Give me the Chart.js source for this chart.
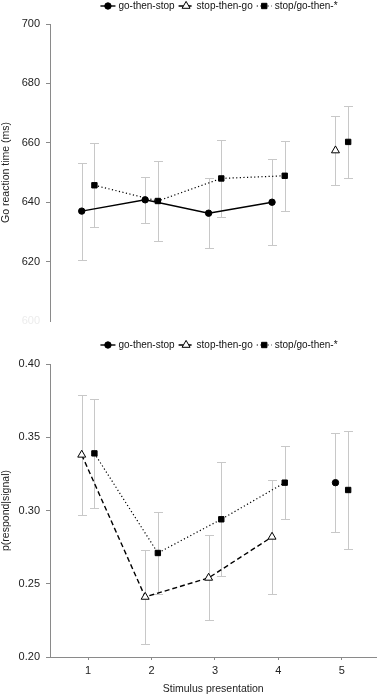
<!DOCTYPE html>
<html>
<head>
<meta charset="utf-8">
<script src="https://cdn.jsdelivr.net/npm/chart.js@4.4.0/dist/chart.umd.min.js"></script>
<style>
  html, body { margin: 0; padding: 0; background: #fff; }
  .panel { position: absolute; left: 0; width: 382px; }
  #top { top: 0; height: 340px; }
  #bottom { top: 340px; height: 356px; }
</style>
</head>
<body>
<div class="panel" id="top"><canvas id="rtChart"></canvas></div>
<div class="panel" id="bottom"><canvas id="pChart"></canvas></div>
<script>
const presentations = [1, 2, 3, 4, 5];
const seriesNames = ['go-then-stop', 'stop-then-go', 'stop/go-then-*'];

// go reaction time (ms): means and error half-widths
const rtGoThenStop = [637.0, 640.8, 636.3, 640.0, null];
const rtGoThenStopErr = [16.3, 7.8, 11.8, 14.4, null];
const rtStopThenGo = [null, null, null, null, 657.4];
const rtStopThenGoErr = [null, null, null, null, 11.5];
const rtStopGoAny = [645.7, 640.4, 648.0, 648.9, 660.3];
const rtStopGoAnyErr = [14.2, 13.4, 12.9, 11.8, 12.1];
const rtTicks = [600, 620, 640, 660, 680, 700];

// p(respond|signal): means and error half-widths
const pGoThenStop = [null, null, null, null, 0.319];
const pGoThenStopErr = [null, null, null, null, 0.034];
const pStopThenGo = [0.338, 0.241, 0.254, 0.282, null];
const pStopThenGoErr = [0.041, 0.032, 0.029, 0.039, null];
const pStopGoAny = [0.339, 0.271, 0.294, 0.319, 0.314];
const pStopGoAnyErr = [0.037, 0.028, 0.039, 0.025, 0.040];
const pTicks = [0.20, 0.25, 0.30, 0.35, 0.40];

Chart.defaults.font.family = '"Liberation Sans", Arial, sans-serif';
Chart.defaults.color = '#222';

const AXIS = '#8a8a8a';
const X_MIN = 0.4, X_MAX = 5.545;
const looks = [
  { dx: -0.1, pointStyle: 'circle', radius: 3.2, fill: '#000', dash: [], width: 1.4 },
  { dx: -0.1, pointStyle: 'triangle', radius: 4.6, fill: '#fff', dash: [5, 3], width: 1.4 },
  { dx: 0.1, pointStyle: 'rect', radius: 3.8, fill: '#000', dash: [1.2, 2.4], width: 1.2 }
];

function makeDatasets(values, errors) {
  return values.map((vals, i) => {
    const l = looks[i];
    return {
      label: seriesNames[i],
      data: presentations.map((p, j) => ({ x: p + l.dx, y: vals[j] })),
      errors: errors[i],
      borderColor: '#000',
      borderWidth: l.width,
      borderDash: l.dash,
      backgroundColor: l.fill,
      pointStyle: l.pointStyle,
      pointRadius: l.radius,
      pointBorderWidth: 1,
      pointBorderColor: '#000',
      pointBackgroundColor: l.fill,
      tension: 0,
      // condition 5 is not joined to the sequence
      segment: { borderColor: ctx => ctx.p1DataIndex === 4 ? 'rgba(0,0,0,0)' : undefined }
    };
  });
}

const errorBars = {
  id: 'errorBars',
  beforeDatasetsDraw(chart) {
    const { ctx } = chart;
    const y = chart.scales.y;
    ctx.save();
    ctx.strokeStyle = '#c8c8c8';
    ctx.lineWidth = 1;
    chart.data.datasets.forEach((ds, i) => {
      const meta = chart.getDatasetMeta(i);
      ds.errors.forEach((e, j) => {
        const v = ds.data[j].y;
        if (v == null || e == null) return;
        const px = Math.round(meta.data[j].x) + 0.5;
        const t = Math.round(y.getPixelForValue(v + e)) + 0.5;
        const b = Math.round(y.getPixelForValue(v - e)) + 0.5;
        ctx.beginPath();
        ctx.moveTo(px, t); ctx.lineTo(px, b);
        ctx.moveTo(px - 4.5, t); ctx.lineTo(px + 4.5, t);
        ctx.moveTo(px - 4.5, b); ctx.lineTo(px + 4.5, b);
        ctx.stroke();
      });
    });
    ctx.restore();
  }
};

const topLegend = {
  id: 'topLegend',
  afterDraw(chart, args, opts) {
    const ctx = chart.ctx;
    ctx.save();
    ctx.font = '10px "Liberation Sans", Arial, sans-serif';
    ctx.textBaseline = 'middle';
    const sw = 15, gapT = 3, gapI = 4;
    const items = chart.data.datasets;
    const widths = items.map(d => sw + gapT + ctx.measureText(d.label).width);
    const total = widths.reduce((a, b) => a + b, 0) + gapI * (items.length - 1);
    let x = opts.centerX - total / 2;
    const y = opts.y;
    items.forEach((d, i) => {
      ctx.strokeStyle = '#000';
      ctx.lineWidth = d.borderWidth;
      ctx.setLineDash(d.borderDash);
      ctx.beginPath(); ctx.moveTo(x, y); ctx.lineTo(x + sw, y); ctx.stroke();
      ctx.setLineDash([]);
      ctx.fillStyle = d.pointBackgroundColor;
      ctx.lineWidth = 1;
      Chart.helpers.drawPoint(ctx, { pointStyle: d.pointStyle, radius: d.pointRadius, borderWidth: 1, rotation: 0 }, x + sw / 2, y);
      ctx.fillStyle = '#111';
      ctx.fillText(d.label, x + sw + gapT, y);
      x += widths[i] + gapI;
    });
    ctx.restore();
  }
};

function yAxis(ticks, min, max, title, fmt, faintValue) {
  return {
    type: 'linear', min, max,
    afterBuildTicks: s => { s.ticks = ticks.map(v => ({ value: v })); },
    afterFit: s => { s.width = 50; },
    border: { display: true, color: AXIS, width: 1 },
    grid: { drawOnChartArea: false, tickLength: 4, color: c => c.tick && c.tick.value === faintValue ? 'rgba(0,0,0,0)' : AXIS },
    ticks: {
      padding: 6, font: { size: 11 },
      color: c => c.tick.value === faintValue ? '#ececec' : '#222',
      callback: fmt
    },
    title: { display: true, text: title, font: { size: 10.5 }, color: '#222', padding: 0 }
  };
}

new Chart(document.getElementById('rtChart'), {
  type: 'line',
  data: { datasets: makeDatasets([rtGoThenStop, rtStopThenGo, rtStopGoAny], [rtGoThenStopErr, rtStopThenGoErr, rtStopGoAnyErr]) },
  options: {
    responsive: true, maintainAspectRatio: false, animation: false,
    layout: { padding: { top: 24, bottom: 19, left: 0, right: 0 } },
    plugins: { legend: { display: false }, tooltip: { enabled: false }, topLegend: { centerX: 219, y: 6 } },
    scales: {
      x: { type: 'linear', min: X_MIN, max: X_MAX, display: false },
      y: yAxis(rtTicks, 600, 700, 'Go reaction time (ms)', v => String(v), 600)
    }
  },
  plugins: [errorBars, topLegend]
});

new Chart(document.getElementById('pChart'), {
  type: 'line',
  data: { datasets: makeDatasets([pGoThenStop, pStopThenGo, pStopGoAny], [pGoThenStopErr, pStopThenGoErr, pStopGoAnyErr]) },
  options: {
    responsive: true, maintainAspectRatio: false, animation: false,
    layout: { padding: { top: 24, bottom: 0, left: 0, right: 0 } },
    plugins: { legend: { display: false }, tooltip: { enabled: false }, topLegend: { centerX: 219, y: 5 } },
    scales: {
      x: {
        type: 'linear', min: X_MIN, max: X_MAX,
        afterBuildTicks: s => { s.ticks = presentations.map(v => ({ value: v })); },
        afterFit: s => { s.height = 39; },
        border: { display: true, color: AXIS, width: 1 },
        grid: { drawOnChartArea: false, tickLength: 3, color: AXIS },
        ticks: { padding: 4, font: { size: 11 }, color: '#222', maxRotation: 0 },
        title: { display: true, text: 'Stimulus presentation', font: { size: 10.5 }, color: '#222', padding: { top: 0, bottom: 1 } }
      },
      y: yAxis(pTicks, 0.2, 0.4, 'p(respond|signal)', v => v.toFixed(2), null)
    }
  },
  plugins: [errorBars, topLegend]
});
</script>
</body>
</html>
